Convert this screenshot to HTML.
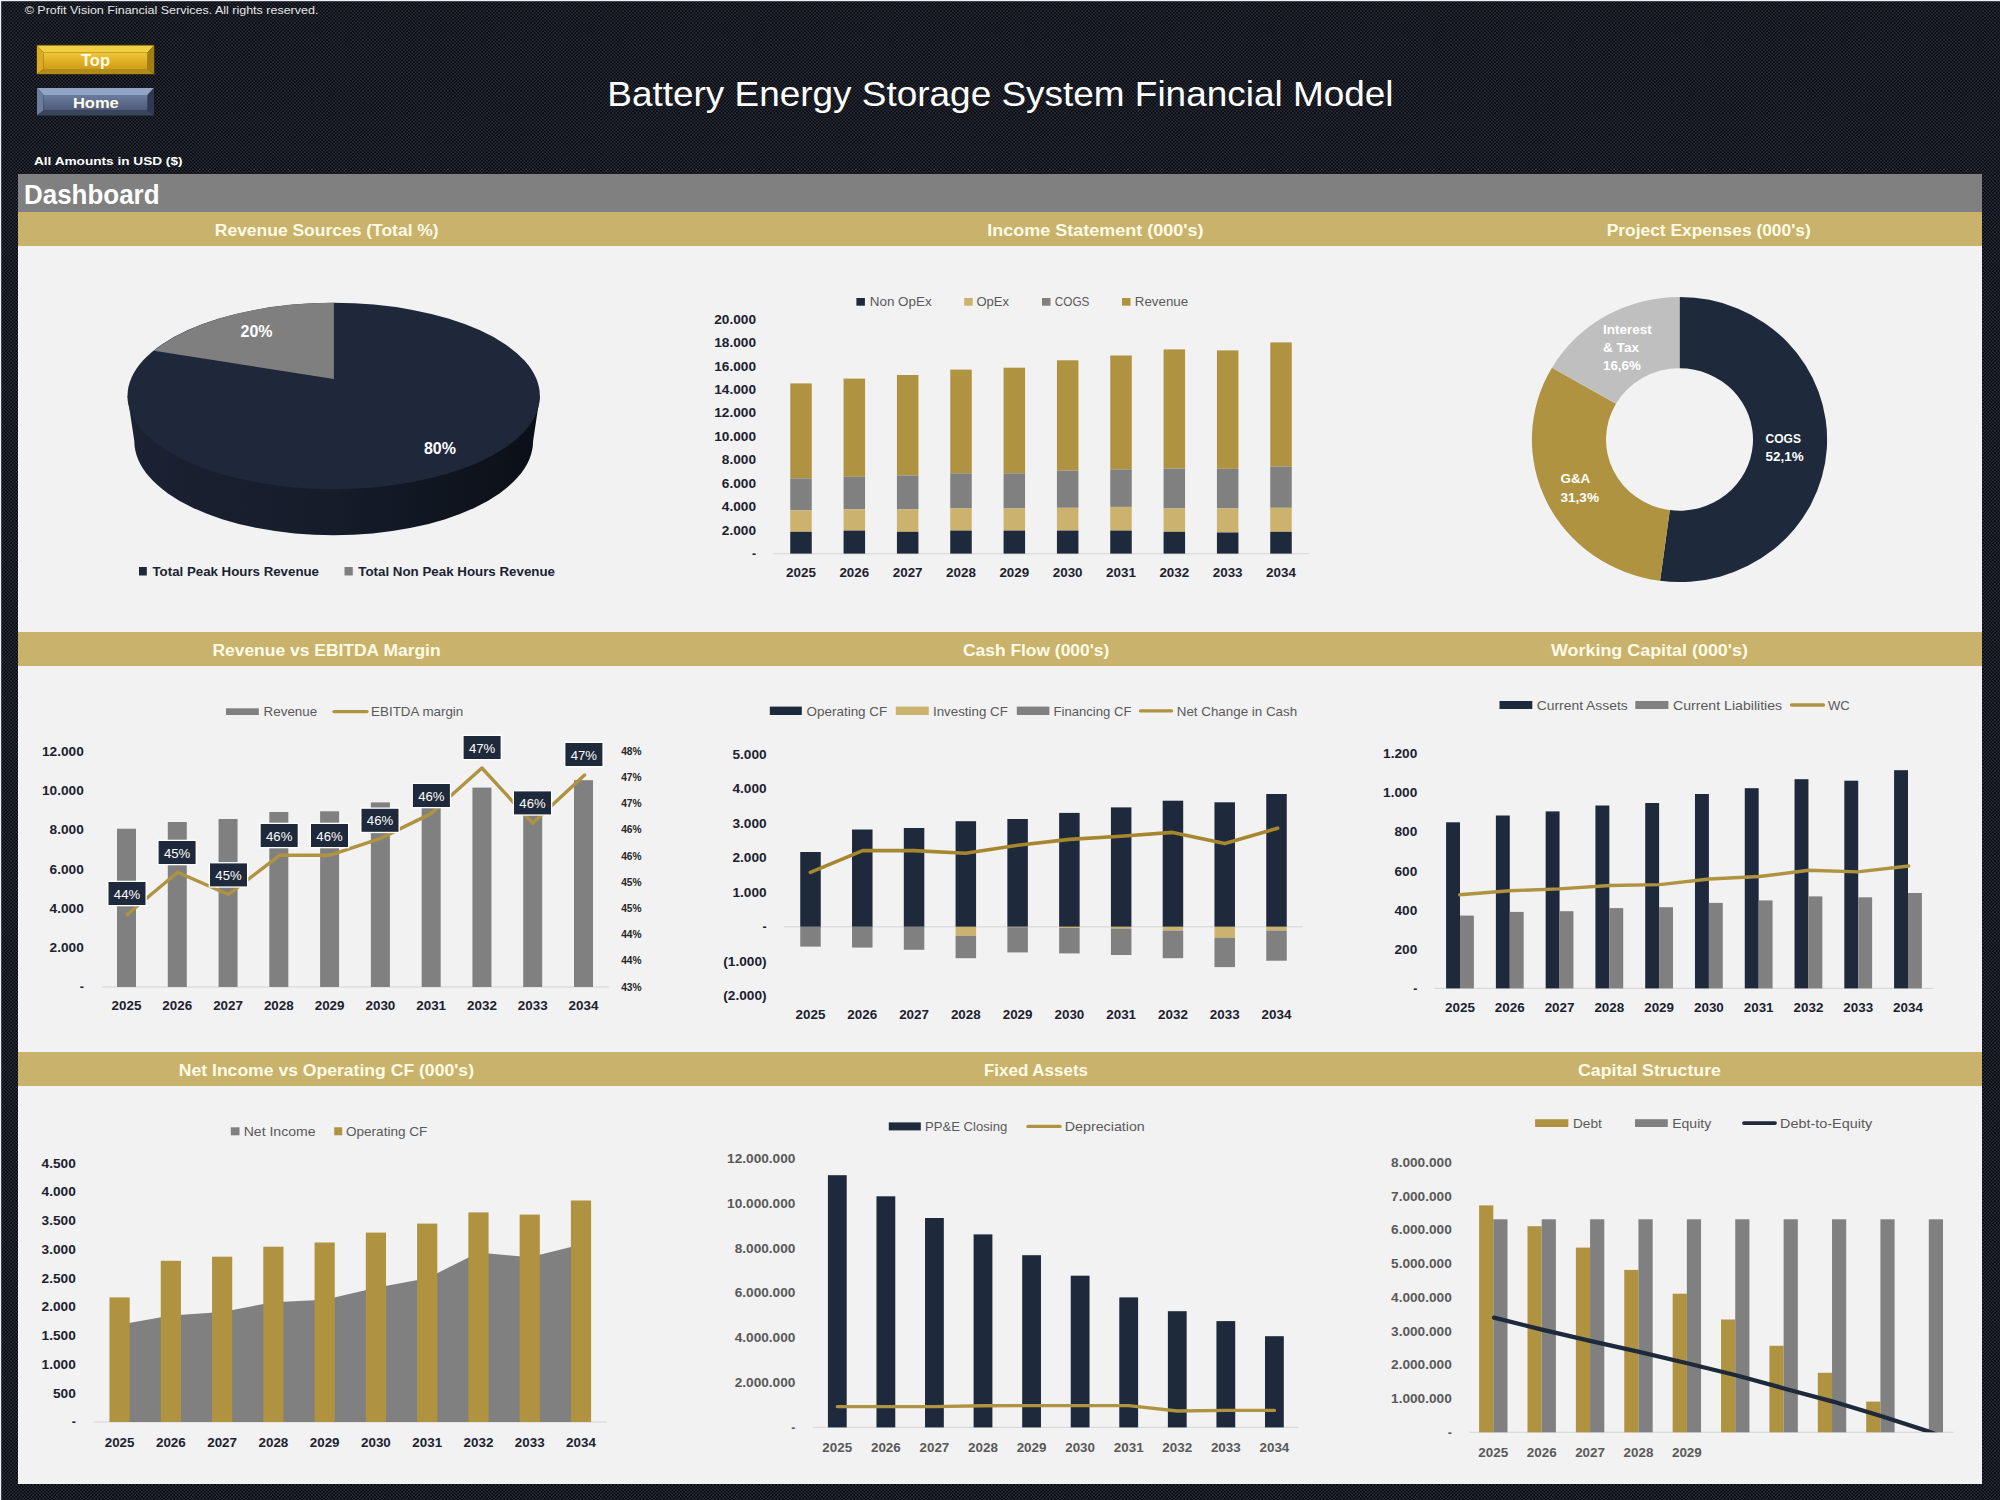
<!DOCTYPE html><html><head><meta charset="utf-8"><title>Battery Energy Storage System Financial Model - Dashboard</title><style>html,body{margin:0;padding:0;background:#11141a;overflow:hidden;width:2000px;height:1500px;}svg{display:block;font-family:"Liberation Sans",sans-serif;}</style></head><body><svg width="2000" height="1500" viewBox="0 0 2000 1500"><defs><pattern id="chk" width="3.4" height="3.4" patternUnits="userSpaceOnUse"><rect width="3.4" height="3.4" fill="#05070d"/><rect x="0" y="0" width="1.7" height="1.7" fill="#2a2e38"/><rect x="1.7" y="1.7" width="1.7" height="1.7" fill="#2a2e38"/></pattern><linearGradient id="pieside" x1="0" x2="1" y1="0" y2="0"><stop offset="0" stop-color="#1a2233"/><stop offset="0.5" stop-color="#151c2a"/><stop offset="1" stop-color="#0b0f17"/></linearGradient><linearGradient id="gface" x1="0" x2="0" y1="0" y2="1"><stop offset="0" stop-color="#f0c83a"/><stop offset="0.5" stop-color="#e2b024"/><stop offset="1" stop-color="#cf9e1a"/></linearGradient><linearGradient id="hface" x1="0" x2="0" y1="0" y2="1"><stop offset="0" stop-color="#6a7c9e"/><stop offset="1" stop-color="#4c5a78"/></linearGradient></defs>
<rect x="0.00" y="0.00" width="2000.00" height="1500.00" fill="url(#chk)" />
<rect x="0.00" y="0.00" width="2000.00" height="1.20" fill="#eef1f5" />
<rect x="0.00" y="0.00" width="1.20" height="1500.00" fill="#eef1f5" />
<text x="24.70" y="14.00" font-size="11.8" font-weight="normal" fill="#e6e6e6" text-anchor="start" textLength="293.70" lengthAdjust="spacingAndGlyphs" >© Profit Vision Financial Services. All rights reserved.</text>
<text x="607.30" y="105.90" font-size="35.9" font-weight="normal" fill="#ffffff" text-anchor="start" textLength="786.20" lengthAdjust="spacingAndGlyphs" >Battery Energy Storage System Financial Model</text>
<rect x="36.00" y="44.50" width="119.00" height="30.50" fill="#3a300c" />
<path d="M37,45.5 L154,45.5 L147.5,52.5 L43.5,52.5 Z" fill="#f1cf45" />
<path d="M37,45.5 L43.5,52.5 L43.5,69.0 L37,74.0 Z" fill="#dcaa20" />
<path d="M154,45.5 L154,74.0 L147.5,69.0 L147.5,52.5 Z" fill="#a27e12" />
<path d="M37,74.0 L43.5,69.0 L147.5,69.0 L154,74.0 Z" fill="#b08a1a" />
<rect x="43.50" y="52.50" width="104.00" height="16.50" fill="url(#gface)" />
<text x="81.00" y="66.00" font-size="15.921787709497208" font-weight="bold" fill="#fffbe8" text-anchor="start" textLength="29.00" lengthAdjust="spacingAndGlyphs" >Top</text>
<rect x="36.00" y="87.00" width="119.00" height="29.50" fill="#141a26" />
<path d="M37,88 L154,88 L147.5,95 L43.5,95 Z" fill="#91a4c4" />
<path d="M37,88 L43.5,95 L43.5,110.5 L37,115.5 Z" fill="#6b7d9c" />
<path d="M154,88 L154,115.5 L147.5,110.5 L147.5,95 Z" fill="#2f3a50" />
<path d="M37,115.5 L43.5,110.5 L147.5,110.5 L154,115.5 Z" fill="#3a455c" />
<rect x="43.50" y="95.00" width="104.00" height="15.50" fill="url(#hface)" />
<text x="72.90" y="108.00" font-size="15.083798882681565" font-weight="bold" fill="#fffbe8" text-anchor="start" textLength="45.90" lengthAdjust="spacingAndGlyphs" >Home</text>
<text x="34.00" y="164.50" font-size="11.8" font-weight="bold" fill="#ffffff" text-anchor="start" textLength="148.50" lengthAdjust="spacingAndGlyphs" >All Amounts in  USD ($)</text>
<rect x="18.00" y="174.00" width="1964.00" height="1310.00" fill="#f2f2f2" />
<rect x="18.00" y="174.00" width="1964.00" height="38.00" fill="#808080" />
<text x="24.00" y="204.00" font-size="27" font-weight="bold" fill="#ffffff" text-anchor="start" textLength="135.50" lengthAdjust="spacingAndGlyphs" >Dashboard</text>
<rect x="18.00" y="212.00" width="1964.00" height="34.00" fill="#c9b26b" />
<rect x="18.00" y="632.00" width="1964.00" height="34.00" fill="#c9b26b" />
<rect x="18.00" y="1052.00" width="1964.00" height="34.00" fill="#c9b26b" />
<text x="214.80" y="236.00" font-size="16.8" font-weight="bold" fill="#fffbe6" text-anchor="start" textLength="223.90" lengthAdjust="spacingAndGlyphs" >Revenue Sources (Total %)</text>
<text x="987.30" y="236.00" font-size="16.8" font-weight="bold" fill="#fffbe6" text-anchor="start" textLength="216.30" lengthAdjust="spacingAndGlyphs" >Income Statement (000's)</text>
<text x="1606.70" y="236.00" font-size="16.8" font-weight="bold" fill="#fffbe6" text-anchor="start" textLength="204.10" lengthAdjust="spacingAndGlyphs" >Project Expenses (000's)</text>
<text x="212.40" y="656.00" font-size="16.8" font-weight="bold" fill="#fffbe6" text-anchor="start" textLength="228.20" lengthAdjust="spacingAndGlyphs" >Revenue vs EBITDA Margin</text>
<text x="963.00" y="656.00" font-size="16.8" font-weight="bold" fill="#fffbe6" text-anchor="start" textLength="146.30" lengthAdjust="spacingAndGlyphs" >Cash Flow (000's)</text>
<text x="1551.00" y="656.00" font-size="16.8" font-weight="bold" fill="#fffbe6" text-anchor="start" textLength="197.00" lengthAdjust="spacingAndGlyphs" >Working Capital (000's)</text>
<text x="178.80" y="1076.00" font-size="16.8" font-weight="bold" fill="#fffbe6" text-anchor="start" textLength="295.20" lengthAdjust="spacingAndGlyphs" >Net Income vs Operating CF (000's)</text>
<text x="984.00" y="1076.00" font-size="16.8" font-weight="bold" fill="#fffbe6" text-anchor="start" textLength="104.00" lengthAdjust="spacingAndGlyphs" >Fixed Assets</text>
<text x="1578.00" y="1076.00" font-size="16.8" font-weight="bold" fill="#fffbe6" text-anchor="start" textLength="143.00" lengthAdjust="spacingAndGlyphs" >Capital Structure</text>
<path d="M127.5,396 L134.3,441 A199.4,94.3 0 0 0 533.1,441 L539.9,396 Z" fill="url(#pieside)" />
<ellipse cx="333.7" cy="396" rx="206.2" ry="93.2" fill="#1e283a"/>
<path d="M333.9,378.9 L333.9,302.80 A206.2,93.2 0 0 0 153.9,350.8 Z" fill="#7f7f7f" />
<text x="240.50" y="336.80" font-size="15.6" font-weight="bold" fill="#ffffff" text-anchor="start" textLength="32.00" lengthAdjust="spacingAndGlyphs" >20%</text>
<text x="423.90" y="454.30" font-size="15.6" font-weight="bold" fill="#ffffff" text-anchor="start" textLength="32.00" lengthAdjust="spacingAndGlyphs" >80%</text>
<rect x="139.00" y="567.00" width="7.80" height="8.50" fill="#1e293b" />
<text x="152.50" y="575.80" font-size="13" font-weight="bold" fill="#1b2231" text-anchor="start" textLength="166.50" lengthAdjust="spacingAndGlyphs" >Total Peak Hours Revenue</text>
<rect x="344.50" y="567.00" width="8.30" height="8.50" fill="#808080" />
<text x="358.30" y="575.80" font-size="13" font-weight="bold" fill="#1b2231" text-anchor="start" textLength="196.70" lengthAdjust="spacingAndGlyphs" >Total Non Peak Hours Revenue</text>
<text x="756.00" y="323.80" font-size="12.3" font-weight="bold" fill="#1c2130" text-anchor="end" textLength="41.76" lengthAdjust="spacingAndGlyphs" >20.000</text>
<text x="756.00" y="347.22" font-size="12.3" font-weight="bold" fill="#1c2130" text-anchor="end" textLength="41.76" lengthAdjust="spacingAndGlyphs" >18.000</text>
<text x="756.00" y="370.64" font-size="12.3" font-weight="bold" fill="#1c2130" text-anchor="end" textLength="41.76" lengthAdjust="spacingAndGlyphs" >16.000</text>
<text x="756.00" y="394.06" font-size="12.3" font-weight="bold" fill="#1c2130" text-anchor="end" textLength="41.76" lengthAdjust="spacingAndGlyphs" >14.000</text>
<text x="756.00" y="417.48" font-size="12.3" font-weight="bold" fill="#1c2130" text-anchor="end" textLength="41.76" lengthAdjust="spacingAndGlyphs" >12.000</text>
<text x="756.00" y="440.90" font-size="12.3" font-weight="bold" fill="#1c2130" text-anchor="end" textLength="41.76" lengthAdjust="spacingAndGlyphs" >10.000</text>
<text x="756.00" y="464.32" font-size="12.3" font-weight="bold" fill="#1c2130" text-anchor="end" textLength="34.17" lengthAdjust="spacingAndGlyphs" >8.000</text>
<text x="756.00" y="487.74" font-size="12.3" font-weight="bold" fill="#1c2130" text-anchor="end" textLength="34.17" lengthAdjust="spacingAndGlyphs" >6.000</text>
<text x="756.00" y="511.16" font-size="12.3" font-weight="bold" fill="#1c2130" text-anchor="end" textLength="34.17" lengthAdjust="spacingAndGlyphs" >4.000</text>
<text x="756.00" y="534.58" font-size="12.3" font-weight="bold" fill="#1c2130" text-anchor="end" textLength="34.17" lengthAdjust="spacingAndGlyphs" >2.000</text>
<text x="756.00" y="558.00" font-size="12.3" font-weight="bold" fill="#1c2130" text-anchor="end" >-</text>
<rect x="773.00" y="553.10" width="536.00" height="1.20" fill="#d9d9d9" />
<rect x="790.25" y="383.40" width="21.50" height="95.00" fill="#b09340" />
<rect x="790.25" y="478.40" width="21.50" height="32.00" fill="#808080" />
<rect x="790.25" y="510.40" width="21.50" height="21.40" fill="#cbb36e" />
<rect x="790.25" y="531.80" width="21.50" height="21.80" fill="#1e293b" />
<rect x="843.58" y="378.60" width="21.50" height="98.20" fill="#b09340" />
<rect x="843.58" y="476.80" width="21.50" height="32.60" fill="#808080" />
<rect x="843.58" y="509.40" width="21.50" height="21.20" fill="#cbb36e" />
<rect x="843.58" y="530.60" width="21.50" height="23.00" fill="#1e293b" />
<rect x="896.92" y="375.00" width="21.50" height="100.50" fill="#b09340" />
<rect x="896.92" y="475.50" width="21.50" height="33.90" fill="#808080" />
<rect x="896.92" y="509.40" width="21.50" height="22.40" fill="#cbb36e" />
<rect x="896.92" y="531.80" width="21.50" height="21.80" fill="#1e293b" />
<rect x="950.25" y="369.60" width="21.50" height="103.70" fill="#b09340" />
<rect x="950.25" y="473.30" width="21.50" height="35.20" fill="#808080" />
<rect x="950.25" y="508.50" width="21.50" height="22.10" fill="#cbb36e" />
<rect x="950.25" y="530.60" width="21.50" height="23.00" fill="#1e293b" />
<rect x="1003.58" y="367.70" width="21.50" height="105.60" fill="#b09340" />
<rect x="1003.58" y="473.30" width="21.50" height="35.20" fill="#808080" />
<rect x="1003.58" y="508.50" width="21.50" height="22.10" fill="#cbb36e" />
<rect x="1003.58" y="530.60" width="21.50" height="23.00" fill="#1e293b" />
<rect x="1056.92" y="360.30" width="21.50" height="110.40" fill="#b09340" />
<rect x="1056.92" y="470.70" width="21.50" height="37.10" fill="#808080" />
<rect x="1056.92" y="507.80" width="21.50" height="22.80" fill="#cbb36e" />
<rect x="1056.92" y="530.60" width="21.50" height="23.00" fill="#1e293b" />
<rect x="1110.25" y="355.50" width="21.50" height="113.90" fill="#b09340" />
<rect x="1110.25" y="469.40" width="21.50" height="37.50" fill="#808080" />
<rect x="1110.25" y="506.90" width="21.50" height="23.70" fill="#cbb36e" />
<rect x="1110.25" y="530.60" width="21.50" height="23.00" fill="#1e293b" />
<rect x="1163.58" y="349.40" width="21.50" height="119.10" fill="#b09340" />
<rect x="1163.58" y="468.50" width="21.50" height="40.00" fill="#808080" />
<rect x="1163.58" y="508.50" width="21.50" height="23.30" fill="#cbb36e" />
<rect x="1163.58" y="531.80" width="21.50" height="21.80" fill="#1e293b" />
<rect x="1216.92" y="350.40" width="21.50" height="118.40" fill="#b09340" />
<rect x="1216.92" y="468.80" width="21.50" height="39.70" fill="#808080" />
<rect x="1216.92" y="508.50" width="21.50" height="24.00" fill="#cbb36e" />
<rect x="1216.92" y="532.50" width="21.50" height="21.10" fill="#1e293b" />
<rect x="1270.25" y="342.40" width="21.50" height="124.20" fill="#b09340" />
<rect x="1270.25" y="466.60" width="21.50" height="41.20" fill="#808080" />
<rect x="1270.25" y="507.80" width="21.50" height="24.00" fill="#cbb36e" />
<rect x="1270.25" y="531.80" width="21.50" height="21.80" fill="#1e293b" />
<text x="801.00" y="577.20" font-size="12.3" font-weight="bold" fill="#1c2130" text-anchor="middle" textLength="29.83" lengthAdjust="spacingAndGlyphs" >2025</text>
<text x="854.33" y="577.20" font-size="12.3" font-weight="bold" fill="#1c2130" text-anchor="middle" textLength="29.83" lengthAdjust="spacingAndGlyphs" >2026</text>
<text x="907.67" y="577.20" font-size="12.3" font-weight="bold" fill="#1c2130" text-anchor="middle" textLength="29.83" lengthAdjust="spacingAndGlyphs" >2027</text>
<text x="961.00" y="577.20" font-size="12.3" font-weight="bold" fill="#1c2130" text-anchor="middle" textLength="29.83" lengthAdjust="spacingAndGlyphs" >2028</text>
<text x="1014.33" y="577.20" font-size="12.3" font-weight="bold" fill="#1c2130" text-anchor="middle" textLength="29.83" lengthAdjust="spacingAndGlyphs" >2029</text>
<text x="1067.67" y="577.20" font-size="12.3" font-weight="bold" fill="#1c2130" text-anchor="middle" textLength="29.83" lengthAdjust="spacingAndGlyphs" >2030</text>
<text x="1121.00" y="577.20" font-size="12.3" font-weight="bold" fill="#1c2130" text-anchor="middle" textLength="29.83" lengthAdjust="spacingAndGlyphs" >2031</text>
<text x="1174.33" y="577.20" font-size="12.3" font-weight="bold" fill="#1c2130" text-anchor="middle" textLength="29.83" lengthAdjust="spacingAndGlyphs" >2032</text>
<text x="1227.67" y="577.20" font-size="12.3" font-weight="bold" fill="#1c2130" text-anchor="middle" textLength="29.83" lengthAdjust="spacingAndGlyphs" >2033</text>
<text x="1281.00" y="577.20" font-size="12.3" font-weight="bold" fill="#1c2130" text-anchor="middle" textLength="29.83" lengthAdjust="spacingAndGlyphs" >2034</text>
<rect x="856.40" y="298.00" width="8.50" height="7.70" fill="#1e293b" />
<text x="869.80" y="306.00" font-size="11.9" font-weight="normal" fill="#595959" text-anchor="start" textLength="61.80" lengthAdjust="spacingAndGlyphs" >Non OpEx</text>
<rect x="964.20" y="298.00" width="8.50" height="7.70" fill="#cbb36e" />
<text x="976.40" y="306.00" font-size="11.9" font-weight="normal" fill="#595959" text-anchor="start" textLength="32.60" lengthAdjust="spacingAndGlyphs" >OpEx</text>
<rect x="1042.00" y="298.00" width="8.50" height="7.70" fill="#808080" />
<text x="1054.80" y="306.00" font-size="11.9" font-weight="normal" fill="#595959" text-anchor="start" textLength="34.60" lengthAdjust="spacingAndGlyphs" >COGS</text>
<rect x="1122.00" y="298.00" width="8.50" height="7.70" fill="#b09340" />
<text x="1134.80" y="306.00" font-size="11.9" font-weight="normal" fill="#595959" text-anchor="start" textLength="53.40" lengthAdjust="spacingAndGlyphs" >Revenue</text>
<path d="M1679.50,296.90 A147.6,142.6 0 1 1 1660.08,580.86 L1669.83,510.08 A73.5,71.2 0 1 0 1679.50,368.30 Z" fill="#1e293b" />
<path d="M1660.08,580.86 A147.6,142.6 0 0 1 1551.98,367.68 L1616.00,403.64 A73.5,71.2 0 0 0 1669.83,510.08 Z" fill="#b09340" />
<path d="M1551.98,367.68 A147.6,142.6 0 0 1 1679.50,296.90 L1679.50,368.30 A73.5,71.2 0 0 0 1616.00,403.64 Z" fill="#bfbfbf" />
<text x="1603.00" y="334.20" font-size="13.5" font-weight="bold" fill="#ffffff" text-anchor="start" textLength="48.80" lengthAdjust="spacingAndGlyphs" >Interest</text>
<text x="1603.00" y="352.20" font-size="13.5" font-weight="bold" fill="#ffffff" text-anchor="start" textLength="36.00" lengthAdjust="spacingAndGlyphs" >&amp; Tax</text>
<text x="1603.00" y="370.10" font-size="13.5" font-weight="bold" fill="#ffffff" text-anchor="start" textLength="37.80" lengthAdjust="spacingAndGlyphs" >16,6%</text>
<text x="1765.60" y="443.20" font-size="13.5" font-weight="bold" fill="#ffffff" text-anchor="start" textLength="35.40" lengthAdjust="spacingAndGlyphs" >COGS</text>
<text x="1765.60" y="461.00" font-size="13.5" font-weight="bold" fill="#ffffff" text-anchor="start" textLength="38.00" lengthAdjust="spacingAndGlyphs" >52,1%</text>
<text x="1560.50" y="483.40" font-size="13.5" font-weight="bold" fill="#ffffff" text-anchor="start" textLength="29.70" lengthAdjust="spacingAndGlyphs" >G&amp;A</text>
<text x="1560.50" y="501.50" font-size="13.5" font-weight="bold" fill="#ffffff" text-anchor="start" textLength="38.50" lengthAdjust="spacingAndGlyphs" >31,3%</text>
<text x="83.80" y="756.00" font-size="12.3" font-weight="bold" fill="#1c2130" text-anchor="end" textLength="41.76" lengthAdjust="spacingAndGlyphs" >12.000</text>
<text x="83.80" y="795.24" font-size="12.3" font-weight="bold" fill="#1c2130" text-anchor="end" textLength="41.76" lengthAdjust="spacingAndGlyphs" >10.000</text>
<text x="83.80" y="834.47" font-size="12.3" font-weight="bold" fill="#1c2130" text-anchor="end" textLength="34.17" lengthAdjust="spacingAndGlyphs" >8.000</text>
<text x="83.80" y="873.70" font-size="12.3" font-weight="bold" fill="#1c2130" text-anchor="end" textLength="34.17" lengthAdjust="spacingAndGlyphs" >6.000</text>
<text x="83.80" y="912.94" font-size="12.3" font-weight="bold" fill="#1c2130" text-anchor="end" textLength="34.17" lengthAdjust="spacingAndGlyphs" >4.000</text>
<text x="83.80" y="952.17" font-size="12.3" font-weight="bold" fill="#1c2130" text-anchor="end" textLength="34.17" lengthAdjust="spacingAndGlyphs" >2.000</text>
<text x="83.80" y="991.40" font-size="12.3" font-weight="bold" fill="#1c2130" text-anchor="end" >-</text>
<text x="641.60" y="754.65" font-size="10.2" font-weight="bold" fill="#262626" text-anchor="end" textLength="20.42" lengthAdjust="spacingAndGlyphs" >48%</text>
<text x="641.60" y="780.87" font-size="10.2" font-weight="bold" fill="#262626" text-anchor="end" textLength="20.42" lengthAdjust="spacingAndGlyphs" >47%</text>
<text x="641.60" y="807.09" font-size="10.2" font-weight="bold" fill="#262626" text-anchor="end" textLength="20.42" lengthAdjust="spacingAndGlyphs" >47%</text>
<text x="641.60" y="833.32" font-size="10.2" font-weight="bold" fill="#262626" text-anchor="end" textLength="20.42" lengthAdjust="spacingAndGlyphs" >46%</text>
<text x="641.60" y="859.54" font-size="10.2" font-weight="bold" fill="#262626" text-anchor="end" textLength="20.42" lengthAdjust="spacingAndGlyphs" >46%</text>
<text x="641.60" y="885.76" font-size="10.2" font-weight="bold" fill="#262626" text-anchor="end" textLength="20.42" lengthAdjust="spacingAndGlyphs" >45%</text>
<text x="641.60" y="911.98" font-size="10.2" font-weight="bold" fill="#262626" text-anchor="end" textLength="20.42" lengthAdjust="spacingAndGlyphs" >45%</text>
<text x="641.60" y="938.21" font-size="10.2" font-weight="bold" fill="#262626" text-anchor="end" textLength="20.42" lengthAdjust="spacingAndGlyphs" >44%</text>
<text x="641.60" y="964.43" font-size="10.2" font-weight="bold" fill="#262626" text-anchor="end" textLength="20.42" lengthAdjust="spacingAndGlyphs" >44%</text>
<text x="641.60" y="990.65" font-size="10.2" font-weight="bold" fill="#262626" text-anchor="end" textLength="20.42" lengthAdjust="spacingAndGlyphs" >43%</text>
<rect x="101.50" y="986.40" width="507.20" height="1.20" fill="#d9d9d9" />
<rect x="117.00" y="828.70" width="19.00" height="158.30" fill="#808080" />
<rect x="167.78" y="822.00" width="19.00" height="165.00" fill="#808080" />
<rect x="218.56" y="819.00" width="19.00" height="168.00" fill="#808080" />
<rect x="269.33" y="812.00" width="19.00" height="175.00" fill="#808080" />
<rect x="320.11" y="811.30" width="19.00" height="175.70" fill="#808080" />
<rect x="370.89" y="802.40" width="19.00" height="184.60" fill="#808080" />
<rect x="421.67" y="799.50" width="19.00" height="187.50" fill="#808080" />
<rect x="472.44" y="787.60" width="19.00" height="199.40" fill="#808080" />
<rect x="523.22" y="790.50" width="19.00" height="196.50" fill="#808080" />
<rect x="574.00" y="780.20" width="19.00" height="206.80" fill="#808080" />
<polyline points="127.00,914.70 177.60,872.30 228.30,894.50 279.60,855.30 329.40,855.30 380.00,838.60 431.00,813.60 481.90,768.00 532.60,823.20 584.60,775.00" fill="none" stroke="#b09340" stroke-width="3.4" stroke-linejoin="round" stroke-linecap="round" />
<rect x="107.20" y="880.70" width="39.60" height="25.60" fill="#ffffff" />
<rect x="108.50" y="882.00" width="37.00" height="23.00" fill="#1e293b" />
<text x="127.00" y="898.50" font-size="13.3" font-weight="normal" fill="#ffffff" text-anchor="middle" textLength="26.30" lengthAdjust="spacingAndGlyphs" >44%</text>
<rect x="157.30" y="839.70" width="39.60" height="25.60" fill="#ffffff" />
<rect x="158.60" y="841.00" width="37.00" height="23.00" fill="#1e293b" />
<text x="177.10" y="857.50" font-size="13.3" font-weight="normal" fill="#ffffff" text-anchor="middle" textLength="26.30" lengthAdjust="spacingAndGlyphs" >45%</text>
<rect x="208.70" y="862.10" width="39.60" height="25.60" fill="#ffffff" />
<rect x="210.00" y="863.40" width="37.00" height="23.00" fill="#1e293b" />
<text x="228.50" y="879.90" font-size="13.3" font-weight="normal" fill="#ffffff" text-anchor="middle" textLength="26.30" lengthAdjust="spacingAndGlyphs" >45%</text>
<rect x="259.40" y="822.70" width="39.60" height="25.60" fill="#ffffff" />
<rect x="260.70" y="824.00" width="37.00" height="23.00" fill="#1e293b" />
<text x="279.20" y="840.50" font-size="13.3" font-weight="normal" fill="#ffffff" text-anchor="middle" textLength="26.30" lengthAdjust="spacingAndGlyphs" >46%</text>
<rect x="309.70" y="822.70" width="39.60" height="25.60" fill="#ffffff" />
<rect x="311.00" y="824.00" width="37.00" height="23.00" fill="#1e293b" />
<text x="329.50" y="840.50" font-size="13.3" font-weight="normal" fill="#ffffff" text-anchor="middle" textLength="26.30" lengthAdjust="spacingAndGlyphs" >46%</text>
<rect x="360.20" y="807.50" width="39.60" height="25.60" fill="#ffffff" />
<rect x="361.50" y="808.80" width="37.00" height="23.00" fill="#1e293b" />
<text x="380.00" y="825.30" font-size="13.3" font-weight="normal" fill="#ffffff" text-anchor="middle" textLength="26.30" lengthAdjust="spacingAndGlyphs" >46%</text>
<rect x="411.60" y="782.70" width="39.60" height="25.60" fill="#ffffff" />
<rect x="412.90" y="784.00" width="37.00" height="23.00" fill="#1e293b" />
<text x="431.40" y="800.50" font-size="13.3" font-weight="normal" fill="#ffffff" text-anchor="middle" textLength="26.30" lengthAdjust="spacingAndGlyphs" >46%</text>
<rect x="462.30" y="734.70" width="39.60" height="25.60" fill="#ffffff" />
<rect x="463.60" y="736.00" width="37.00" height="23.00" fill="#1e293b" />
<text x="482.10" y="752.50" font-size="13.3" font-weight="normal" fill="#ffffff" text-anchor="middle" textLength="26.30" lengthAdjust="spacingAndGlyphs" >47%</text>
<rect x="512.70" y="790.10" width="39.60" height="25.60" fill="#ffffff" />
<rect x="514.00" y="791.40" width="37.00" height="23.00" fill="#1e293b" />
<text x="532.50" y="807.90" font-size="13.3" font-weight="normal" fill="#ffffff" text-anchor="middle" textLength="26.30" lengthAdjust="spacingAndGlyphs" >46%</text>
<rect x="564.10" y="741.70" width="39.60" height="25.60" fill="#ffffff" />
<rect x="565.40" y="743.00" width="37.00" height="23.00" fill="#1e293b" />
<text x="583.90" y="759.50" font-size="13.3" font-weight="normal" fill="#ffffff" text-anchor="middle" textLength="26.30" lengthAdjust="spacingAndGlyphs" >47%</text>
<text x="126.50" y="1010.40" font-size="12.3" font-weight="bold" fill="#1c2130" text-anchor="middle" textLength="29.83" lengthAdjust="spacingAndGlyphs" >2025</text>
<text x="177.28" y="1010.40" font-size="12.3" font-weight="bold" fill="#1c2130" text-anchor="middle" textLength="29.83" lengthAdjust="spacingAndGlyphs" >2026</text>
<text x="228.06" y="1010.40" font-size="12.3" font-weight="bold" fill="#1c2130" text-anchor="middle" textLength="29.83" lengthAdjust="spacingAndGlyphs" >2027</text>
<text x="278.83" y="1010.40" font-size="12.3" font-weight="bold" fill="#1c2130" text-anchor="middle" textLength="29.83" lengthAdjust="spacingAndGlyphs" >2028</text>
<text x="329.61" y="1010.40" font-size="12.3" font-weight="bold" fill="#1c2130" text-anchor="middle" textLength="29.83" lengthAdjust="spacingAndGlyphs" >2029</text>
<text x="380.39" y="1010.40" font-size="12.3" font-weight="bold" fill="#1c2130" text-anchor="middle" textLength="29.83" lengthAdjust="spacingAndGlyphs" >2030</text>
<text x="431.17" y="1010.40" font-size="12.3" font-weight="bold" fill="#1c2130" text-anchor="middle" textLength="29.83" lengthAdjust="spacingAndGlyphs" >2031</text>
<text x="481.94" y="1010.40" font-size="12.3" font-weight="bold" fill="#1c2130" text-anchor="middle" textLength="29.83" lengthAdjust="spacingAndGlyphs" >2032</text>
<text x="532.72" y="1010.40" font-size="12.3" font-weight="bold" fill="#1c2130" text-anchor="middle" textLength="29.83" lengthAdjust="spacingAndGlyphs" >2033</text>
<text x="583.50" y="1010.40" font-size="12.3" font-weight="bold" fill="#1c2130" text-anchor="middle" textLength="29.83" lengthAdjust="spacingAndGlyphs" >2034</text>
<rect x="226.00" y="708.30" width="32.80" height="6.70" fill="#808080" />
<text x="263.60" y="716.30" font-size="11.9" font-weight="normal" fill="#595959" text-anchor="start" textLength="53.60" lengthAdjust="spacingAndGlyphs" >Revenue</text>
<polyline points="334.00,711.60 367.00,711.60" fill="none" stroke="#b09340" stroke-width="3.4" stroke-linejoin="round" stroke-linecap="round" />
<text x="371.10" y="716.30" font-size="11.9" font-weight="normal" fill="#595959" text-anchor="start" textLength="92.20" lengthAdjust="spacingAndGlyphs" >EBITDA margin</text>
<text x="766.60" y="759.00" font-size="12.3" font-weight="bold" fill="#1c2130" text-anchor="end" textLength="34.17" lengthAdjust="spacingAndGlyphs" >5.000</text>
<text x="766.60" y="793.43" font-size="12.3" font-weight="bold" fill="#1c2130" text-anchor="end" textLength="34.17" lengthAdjust="spacingAndGlyphs" >4.000</text>
<text x="766.60" y="827.86" font-size="12.3" font-weight="bold" fill="#1c2130" text-anchor="end" textLength="34.17" lengthAdjust="spacingAndGlyphs" >3.000</text>
<text x="766.60" y="862.29" font-size="12.3" font-weight="bold" fill="#1c2130" text-anchor="end" textLength="34.17" lengthAdjust="spacingAndGlyphs" >2.000</text>
<text x="766.60" y="896.72" font-size="12.3" font-weight="bold" fill="#1c2130" text-anchor="end" textLength="34.17" lengthAdjust="spacingAndGlyphs" >1.000</text>
<text x="766.60" y="931.15" font-size="12.3" font-weight="bold" fill="#1c2130" text-anchor="end" >-</text>
<text x="766.60" y="965.57" font-size="12.3" font-weight="bold" fill="#1c2130" text-anchor="end" textLength="43.26" lengthAdjust="spacingAndGlyphs" >(1.000)</text>
<text x="766.60" y="1000.00" font-size="12.3" font-weight="bold" fill="#1c2130" text-anchor="end" textLength="43.26" lengthAdjust="spacingAndGlyphs" >(2.000)</text>
<rect x="783.80" y="926.20" width="518.80" height="1.20" fill="#d9d9d9" />
<rect x="800.25" y="852.00" width="20.50" height="74.80" fill="#1e293b" />
<rect x="800.25" y="926.80" width="20.50" height="19.80" fill="#808080" />
<rect x="852.03" y="829.50" width="20.50" height="97.30" fill="#1e293b" />
<rect x="852.03" y="926.80" width="20.50" height="20.80" fill="#808080" />
<rect x="903.81" y="828.00" width="20.50" height="98.80" fill="#1e293b" />
<rect x="903.81" y="926.80" width="20.50" height="23.00" fill="#808080" />
<rect x="955.58" y="821.20" width="20.50" height="105.60" fill="#1e293b" />
<rect x="955.58" y="926.80" width="20.50" height="9.00" fill="#cbb36e" />
<rect x="955.58" y="935.80" width="20.50" height="22.40" fill="#808080" />
<rect x="1007.36" y="819.00" width="20.50" height="107.80" fill="#1e293b" />
<rect x="1007.36" y="926.80" width="20.50" height="0.40" fill="#cbb36e" />
<rect x="1007.36" y="927.20" width="20.50" height="25.20" fill="#808080" />
<rect x="1059.14" y="812.90" width="20.50" height="113.90" fill="#1e293b" />
<rect x="1059.14" y="926.80" width="20.50" height="1.20" fill="#cbb36e" />
<rect x="1059.14" y="928.00" width="20.50" height="25.40" fill="#808080" />
<rect x="1110.92" y="807.40" width="20.50" height="119.40" fill="#1e293b" />
<rect x="1110.92" y="926.80" width="20.50" height="1.70" fill="#cbb36e" />
<rect x="1110.92" y="928.50" width="20.50" height="26.50" fill="#808080" />
<rect x="1162.69" y="800.70" width="20.50" height="126.10" fill="#1e293b" />
<rect x="1162.69" y="926.80" width="20.50" height="3.80" fill="#cbb36e" />
<rect x="1162.69" y="930.60" width="20.50" height="27.60" fill="#808080" />
<rect x="1214.47" y="802.30" width="20.50" height="124.50" fill="#1e293b" />
<rect x="1214.47" y="926.80" width="20.50" height="10.90" fill="#cbb36e" />
<rect x="1214.47" y="937.70" width="20.50" height="29.40" fill="#808080" />
<rect x="1266.25" y="794.00" width="20.50" height="132.80" fill="#1e293b" />
<rect x="1266.25" y="926.80" width="20.50" height="3.80" fill="#cbb36e" />
<rect x="1266.25" y="930.60" width="20.50" height="30.10" fill="#808080" />
<polyline points="810.40,872.40 862.60,850.60 913.80,850.60 965.60,853.20 1017.80,845.20 1069.60,839.40 1120.80,836.20 1172.60,832.40 1224.80,843.60 1277.60,828.20" fill="none" stroke="#a6872f" stroke-width="3.6" stroke-linejoin="round" stroke-linecap="round" />
<text x="810.50" y="1019.20" font-size="12.3" font-weight="bold" fill="#1c2130" text-anchor="middle" textLength="29.83" lengthAdjust="spacingAndGlyphs" >2025</text>
<text x="862.28" y="1019.20" font-size="12.3" font-weight="bold" fill="#1c2130" text-anchor="middle" textLength="29.83" lengthAdjust="spacingAndGlyphs" >2026</text>
<text x="914.06" y="1019.20" font-size="12.3" font-weight="bold" fill="#1c2130" text-anchor="middle" textLength="29.83" lengthAdjust="spacingAndGlyphs" >2027</text>
<text x="965.83" y="1019.20" font-size="12.3" font-weight="bold" fill="#1c2130" text-anchor="middle" textLength="29.83" lengthAdjust="spacingAndGlyphs" >2028</text>
<text x="1017.61" y="1019.20" font-size="12.3" font-weight="bold" fill="#1c2130" text-anchor="middle" textLength="29.83" lengthAdjust="spacingAndGlyphs" >2029</text>
<text x="1069.39" y="1019.20" font-size="12.3" font-weight="bold" fill="#1c2130" text-anchor="middle" textLength="29.83" lengthAdjust="spacingAndGlyphs" >2030</text>
<text x="1121.17" y="1019.20" font-size="12.3" font-weight="bold" fill="#1c2130" text-anchor="middle" textLength="29.83" lengthAdjust="spacingAndGlyphs" >2031</text>
<text x="1172.94" y="1019.20" font-size="12.3" font-weight="bold" fill="#1c2130" text-anchor="middle" textLength="29.83" lengthAdjust="spacingAndGlyphs" >2032</text>
<text x="1224.72" y="1019.20" font-size="12.3" font-weight="bold" fill="#1c2130" text-anchor="middle" textLength="29.83" lengthAdjust="spacingAndGlyphs" >2033</text>
<text x="1276.50" y="1019.20" font-size="12.3" font-weight="bold" fill="#1c2130" text-anchor="middle" textLength="29.83" lengthAdjust="spacingAndGlyphs" >2034</text>
<rect x="769.80" y="706.60" width="32.00" height="8.40" fill="#1e293b" />
<text x="806.60" y="716.20" font-size="11.9" font-weight="normal" fill="#595959" text-anchor="start" textLength="80.60" lengthAdjust="spacingAndGlyphs" >Operating CF</text>
<rect x="895.80" y="706.60" width="33.00" height="8.40" fill="#cbb36e" />
<text x="933.00" y="716.20" font-size="11.9" font-weight="normal" fill="#595959" text-anchor="start" textLength="74.80" lengthAdjust="spacingAndGlyphs" >Investing CF</text>
<rect x="1016.80" y="706.60" width="32.60" height="8.40" fill="#808080" />
<text x="1053.60" y="716.20" font-size="11.9" font-weight="normal" fill="#595959" text-anchor="start" textLength="77.80" lengthAdjust="spacingAndGlyphs" >Financing CF</text>
<polyline points="1140.50,710.90 1171.50,710.90" fill="none" stroke="#b09340" stroke-width="3.4" stroke-linejoin="round" stroke-linecap="round" />
<text x="1176.80" y="716.20" font-size="11.9" font-weight="normal" fill="#595959" text-anchor="start" textLength="120.30" lengthAdjust="spacingAndGlyphs" >Net Change in Cash</text>
<text x="1417.30" y="758.20" font-size="12.3" font-weight="bold" fill="#1c2130" text-anchor="end" textLength="34.17" lengthAdjust="spacingAndGlyphs" >1.200</text>
<text x="1417.30" y="797.30" font-size="12.3" font-weight="bold" fill="#1c2130" text-anchor="end" textLength="34.17" lengthAdjust="spacingAndGlyphs" >1.000</text>
<text x="1417.30" y="836.40" font-size="12.3" font-weight="bold" fill="#1c2130" text-anchor="end" textLength="22.78" lengthAdjust="spacingAndGlyphs" >800</text>
<text x="1417.30" y="875.50" font-size="12.3" font-weight="bold" fill="#1c2130" text-anchor="end" textLength="22.78" lengthAdjust="spacingAndGlyphs" >600</text>
<text x="1417.30" y="914.60" font-size="12.3" font-weight="bold" fill="#1c2130" text-anchor="end" textLength="22.78" lengthAdjust="spacingAndGlyphs" >400</text>
<text x="1417.30" y="953.70" font-size="12.3" font-weight="bold" fill="#1c2130" text-anchor="end" textLength="22.78" lengthAdjust="spacingAndGlyphs" >200</text>
<text x="1417.30" y="992.80" font-size="12.3" font-weight="bold" fill="#1c2130" text-anchor="end" >-</text>
<rect x="1434.40" y="987.80" width="499.10" height="1.20" fill="#d9d9d9" />
<rect x="1446.10" y="822.30" width="13.90" height="166.10" fill="#1e293b" />
<rect x="1460.00" y="915.60" width="13.90" height="72.80" fill="#808080" />
<rect x="1495.88" y="815.50" width="13.90" height="172.90" fill="#1e293b" />
<rect x="1509.78" y="911.90" width="13.90" height="76.50" fill="#808080" />
<rect x="1545.66" y="811.40" width="13.90" height="177.00" fill="#1e293b" />
<rect x="1559.56" y="911.20" width="13.90" height="77.20" fill="#808080" />
<rect x="1595.43" y="805.50" width="13.90" height="182.90" fill="#1e293b" />
<rect x="1609.33" y="908.10" width="13.90" height="80.30" fill="#808080" />
<rect x="1645.21" y="803.00" width="13.90" height="185.40" fill="#1e293b" />
<rect x="1659.11" y="907.20" width="13.90" height="81.20" fill="#808080" />
<rect x="1694.99" y="794.00" width="13.90" height="194.40" fill="#1e293b" />
<rect x="1708.89" y="902.90" width="13.90" height="85.50" fill="#808080" />
<rect x="1744.77" y="788.20" width="13.90" height="200.20" fill="#1e293b" />
<rect x="1758.67" y="900.40" width="13.90" height="88.00" fill="#808080" />
<rect x="1794.54" y="779.20" width="13.90" height="209.20" fill="#1e293b" />
<rect x="1808.44" y="896.40" width="13.90" height="92.00" fill="#808080" />
<rect x="1844.32" y="780.70" width="13.90" height="207.70" fill="#1e293b" />
<rect x="1858.22" y="897.30" width="13.90" height="91.10" fill="#808080" />
<rect x="1894.10" y="770.20" width="13.90" height="218.20" fill="#1e293b" />
<rect x="1908.00" y="893.00" width="13.90" height="95.40" fill="#808080" />
<polyline points="1459.80,894.80 1509.40,890.80 1559.30,888.90 1609.50,885.50 1659.80,884.60 1709.30,879.00 1759.30,876.50 1808.90,870.30 1857.50,871.90 1908.70,866.00" fill="none" stroke="#b09340" stroke-width="3.4" stroke-linejoin="round" stroke-linecap="round" />
<text x="1460.00" y="1012.40" font-size="12.3" font-weight="bold" fill="#1c2130" text-anchor="middle" textLength="29.83" lengthAdjust="spacingAndGlyphs" >2025</text>
<text x="1509.78" y="1012.40" font-size="12.3" font-weight="bold" fill="#1c2130" text-anchor="middle" textLength="29.83" lengthAdjust="spacingAndGlyphs" >2026</text>
<text x="1559.56" y="1012.40" font-size="12.3" font-weight="bold" fill="#1c2130" text-anchor="middle" textLength="29.83" lengthAdjust="spacingAndGlyphs" >2027</text>
<text x="1609.33" y="1012.40" font-size="12.3" font-weight="bold" fill="#1c2130" text-anchor="middle" textLength="29.83" lengthAdjust="spacingAndGlyphs" >2028</text>
<text x="1659.11" y="1012.40" font-size="12.3" font-weight="bold" fill="#1c2130" text-anchor="middle" textLength="29.83" lengthAdjust="spacingAndGlyphs" >2029</text>
<text x="1708.89" y="1012.40" font-size="12.3" font-weight="bold" fill="#1c2130" text-anchor="middle" textLength="29.83" lengthAdjust="spacingAndGlyphs" >2030</text>
<text x="1758.67" y="1012.40" font-size="12.3" font-weight="bold" fill="#1c2130" text-anchor="middle" textLength="29.83" lengthAdjust="spacingAndGlyphs" >2031</text>
<text x="1808.44" y="1012.40" font-size="12.3" font-weight="bold" fill="#1c2130" text-anchor="middle" textLength="29.83" lengthAdjust="spacingAndGlyphs" >2032</text>
<text x="1858.22" y="1012.40" font-size="12.3" font-weight="bold" fill="#1c2130" text-anchor="middle" textLength="29.83" lengthAdjust="spacingAndGlyphs" >2033</text>
<text x="1908.00" y="1012.40" font-size="12.3" font-weight="bold" fill="#1c2130" text-anchor="middle" textLength="29.83" lengthAdjust="spacingAndGlyphs" >2034</text>
<rect x="1499.50" y="701.00" width="32.80" height="8.00" fill="#1e293b" />
<text x="1536.70" y="709.80" font-size="11.9" font-weight="normal" fill="#595959" text-anchor="start" textLength="91.10" lengthAdjust="spacingAndGlyphs" >Current Assets</text>
<rect x="1635.30" y="701.00" width="33.10" height="8.00" fill="#808080" />
<text x="1673.00" y="709.80" font-size="11.9" font-weight="normal" fill="#595959" text-anchor="start" textLength="109.20" lengthAdjust="spacingAndGlyphs" >Current Liabilities</text>
<polyline points="1791.50,705.00 1823.50,705.00" fill="none" stroke="#b09340" stroke-width="3.4" stroke-linejoin="round" stroke-linecap="round" />
<text x="1828.00" y="709.80" font-size="11.9" font-weight="normal" fill="#595959" text-anchor="start" textLength="21.80" lengthAdjust="spacingAndGlyphs" >WC</text>
<text x="75.80" y="1167.60" font-size="12.3" font-weight="bold" fill="#1c2130" text-anchor="end" textLength="34.17" lengthAdjust="spacingAndGlyphs" >4.500</text>
<text x="75.80" y="1196.36" font-size="12.3" font-weight="bold" fill="#1c2130" text-anchor="end" textLength="34.17" lengthAdjust="spacingAndGlyphs" >4.000</text>
<text x="75.80" y="1225.11" font-size="12.3" font-weight="bold" fill="#1c2130" text-anchor="end" textLength="34.17" lengthAdjust="spacingAndGlyphs" >3.500</text>
<text x="75.80" y="1253.87" font-size="12.3" font-weight="bold" fill="#1c2130" text-anchor="end" textLength="34.17" lengthAdjust="spacingAndGlyphs" >3.000</text>
<text x="75.80" y="1282.63" font-size="12.3" font-weight="bold" fill="#1c2130" text-anchor="end" textLength="34.17" lengthAdjust="spacingAndGlyphs" >2.500</text>
<text x="75.80" y="1311.38" font-size="12.3" font-weight="bold" fill="#1c2130" text-anchor="end" textLength="34.17" lengthAdjust="spacingAndGlyphs" >2.000</text>
<text x="75.80" y="1340.14" font-size="12.3" font-weight="bold" fill="#1c2130" text-anchor="end" textLength="34.17" lengthAdjust="spacingAndGlyphs" >1.500</text>
<text x="75.80" y="1368.89" font-size="12.3" font-weight="bold" fill="#1c2130" text-anchor="end" textLength="34.17" lengthAdjust="spacingAndGlyphs" >1.000</text>
<text x="75.80" y="1397.65" font-size="12.3" font-weight="bold" fill="#1c2130" text-anchor="end" textLength="22.78" lengthAdjust="spacingAndGlyphs" >500</text>
<text x="75.80" y="1426.40" font-size="12.3" font-weight="bold" fill="#1c2130" text-anchor="end" >-</text>
<rect x="93.40" y="1421.40" width="513.60" height="1.20" fill="#d9d9d9" />
<path d="M119.60,1422 L119.60,1324.70 L170.87,1315.50 L222.13,1311.90 L273.40,1302.20 L324.67,1299.70 L375.93,1287.80 L427.20,1278.20 L478.47,1252.50 L529.73,1257.30 L581.00,1244.50 L581.00,1422 Z" fill="#808080" />
<rect x="109.50" y="1297.40" width="20.20" height="124.60" fill="#b09340" />
<rect x="160.77" y="1260.80" width="20.20" height="161.20" fill="#b09340" />
<rect x="212.03" y="1256.70" width="20.20" height="165.30" fill="#b09340" />
<rect x="263.30" y="1246.70" width="20.20" height="175.30" fill="#b09340" />
<rect x="314.57" y="1242.50" width="20.20" height="179.50" fill="#b09340" />
<rect x="365.83" y="1232.60" width="20.20" height="189.40" fill="#b09340" />
<rect x="417.10" y="1223.60" width="20.20" height="198.40" fill="#b09340" />
<rect x="468.37" y="1212.40" width="20.20" height="209.60" fill="#b09340" />
<rect x="519.63" y="1214.60" width="20.20" height="207.40" fill="#b09340" />
<rect x="570.90" y="1200.50" width="20.20" height="221.50" fill="#b09340" />
<text x="119.60" y="1446.90" font-size="12.3" font-weight="bold" fill="#1c2130" text-anchor="middle" textLength="29.83" lengthAdjust="spacingAndGlyphs" >2025</text>
<text x="170.87" y="1446.90" font-size="12.3" font-weight="bold" fill="#1c2130" text-anchor="middle" textLength="29.83" lengthAdjust="spacingAndGlyphs" >2026</text>
<text x="222.13" y="1446.90" font-size="12.3" font-weight="bold" fill="#1c2130" text-anchor="middle" textLength="29.83" lengthAdjust="spacingAndGlyphs" >2027</text>
<text x="273.40" y="1446.90" font-size="12.3" font-weight="bold" fill="#1c2130" text-anchor="middle" textLength="29.83" lengthAdjust="spacingAndGlyphs" >2028</text>
<text x="324.67" y="1446.90" font-size="12.3" font-weight="bold" fill="#1c2130" text-anchor="middle" textLength="29.83" lengthAdjust="spacingAndGlyphs" >2029</text>
<text x="375.93" y="1446.90" font-size="12.3" font-weight="bold" fill="#1c2130" text-anchor="middle" textLength="29.83" lengthAdjust="spacingAndGlyphs" >2030</text>
<text x="427.20" y="1446.90" font-size="12.3" font-weight="bold" fill="#1c2130" text-anchor="middle" textLength="29.83" lengthAdjust="spacingAndGlyphs" >2031</text>
<text x="478.47" y="1446.90" font-size="12.3" font-weight="bold" fill="#1c2130" text-anchor="middle" textLength="29.83" lengthAdjust="spacingAndGlyphs" >2032</text>
<text x="529.73" y="1446.90" font-size="12.3" font-weight="bold" fill="#1c2130" text-anchor="middle" textLength="29.83" lengthAdjust="spacingAndGlyphs" >2033</text>
<text x="581.00" y="1446.90" font-size="12.3" font-weight="bold" fill="#1c2130" text-anchor="middle" textLength="29.83" lengthAdjust="spacingAndGlyphs" >2034</text>
<rect x="230.80" y="1127.30" width="8.70" height="8.00" fill="#808080" />
<text x="243.70" y="1136.00" font-size="11.9" font-weight="normal" fill="#595959" text-anchor="start" textLength="71.90" lengthAdjust="spacingAndGlyphs" >Net Income</text>
<rect x="334.20" y="1127.30" width="8.00" height="8.00" fill="#b09340" />
<text x="346.00" y="1136.00" font-size="11.9" font-weight="normal" fill="#595959" text-anchor="start" textLength="81.30" lengthAdjust="spacingAndGlyphs" >Operating CF</text>
<text x="795.40" y="1163.00" font-size="12.3" font-weight="bold" fill="#595959" text-anchor="end" textLength="68.33" lengthAdjust="spacingAndGlyphs" >12.000.000</text>
<text x="795.40" y="1207.80" font-size="12.3" font-weight="bold" fill="#595959" text-anchor="end" textLength="68.33" lengthAdjust="spacingAndGlyphs" >10.000.000</text>
<text x="795.40" y="1252.60" font-size="12.3" font-weight="bold" fill="#595959" text-anchor="end" textLength="60.74" lengthAdjust="spacingAndGlyphs" >8.000.000</text>
<text x="795.40" y="1297.40" font-size="12.3" font-weight="bold" fill="#595959" text-anchor="end" textLength="60.74" lengthAdjust="spacingAndGlyphs" >6.000.000</text>
<text x="795.40" y="1342.20" font-size="12.3" font-weight="bold" fill="#595959" text-anchor="end" textLength="60.74" lengthAdjust="spacingAndGlyphs" >4.000.000</text>
<text x="795.40" y="1387.00" font-size="12.3" font-weight="bold" fill="#595959" text-anchor="end" textLength="60.74" lengthAdjust="spacingAndGlyphs" >2.000.000</text>
<text x="795.40" y="1431.80" font-size="12.3" font-weight="bold" fill="#595959" text-anchor="end" >-</text>
<rect x="812.60" y="1426.80" width="485.80" height="1.20" fill="#d9d9d9" />
<rect x="827.90" y="1175.20" width="18.80" height="252.20" fill="#1e293b" />
<rect x="876.47" y="1196.30" width="18.80" height="231.10" fill="#1e293b" />
<rect x="925.03" y="1218.00" width="18.80" height="209.40" fill="#1e293b" />
<rect x="973.60" y="1234.40" width="18.80" height="193.00" fill="#1e293b" />
<rect x="1022.17" y="1255.20" width="18.80" height="172.20" fill="#1e293b" />
<rect x="1070.73" y="1275.70" width="18.80" height="151.70" fill="#1e293b" />
<rect x="1119.30" y="1297.40" width="18.80" height="130.00" fill="#1e293b" />
<rect x="1167.87" y="1311.20" width="18.80" height="116.20" fill="#1e293b" />
<rect x="1216.43" y="1321.10" width="18.80" height="106.30" fill="#1e293b" />
<rect x="1265.00" y="1336.20" width="18.80" height="91.20" fill="#1e293b" />
<polyline points="837.30,1406.60 885.87,1406.60 934.43,1406.60 983.00,1405.80 1031.57,1405.60 1080.13,1405.60 1128.70,1405.60 1177.27,1411.00 1225.83,1410.40 1274.40,1410.40" fill="none" stroke="#b09340" stroke-width="3.4" stroke-linejoin="round" stroke-linecap="round" />
<text x="837.30" y="1451.60" font-size="12.3" font-weight="bold" fill="#595959" text-anchor="middle" textLength="29.83" lengthAdjust="spacingAndGlyphs" >2025</text>
<text x="885.87" y="1451.60" font-size="12.3" font-weight="bold" fill="#595959" text-anchor="middle" textLength="29.83" lengthAdjust="spacingAndGlyphs" >2026</text>
<text x="934.43" y="1451.60" font-size="12.3" font-weight="bold" fill="#595959" text-anchor="middle" textLength="29.83" lengthAdjust="spacingAndGlyphs" >2027</text>
<text x="983.00" y="1451.60" font-size="12.3" font-weight="bold" fill="#595959" text-anchor="middle" textLength="29.83" lengthAdjust="spacingAndGlyphs" >2028</text>
<text x="1031.57" y="1451.60" font-size="12.3" font-weight="bold" fill="#595959" text-anchor="middle" textLength="29.83" lengthAdjust="spacingAndGlyphs" >2029</text>
<text x="1080.13" y="1451.60" font-size="12.3" font-weight="bold" fill="#595959" text-anchor="middle" textLength="29.83" lengthAdjust="spacingAndGlyphs" >2030</text>
<text x="1128.70" y="1451.60" font-size="12.3" font-weight="bold" fill="#595959" text-anchor="middle" textLength="29.83" lengthAdjust="spacingAndGlyphs" >2031</text>
<text x="1177.27" y="1451.60" font-size="12.3" font-weight="bold" fill="#595959" text-anchor="middle" textLength="29.83" lengthAdjust="spacingAndGlyphs" >2032</text>
<text x="1225.83" y="1451.60" font-size="12.3" font-weight="bold" fill="#595959" text-anchor="middle" textLength="29.83" lengthAdjust="spacingAndGlyphs" >2033</text>
<text x="1274.40" y="1451.60" font-size="12.3" font-weight="bold" fill="#595959" text-anchor="middle" textLength="29.83" lengthAdjust="spacingAndGlyphs" >2034</text>
<rect x="888.80" y="1122.40" width="32.00" height="8.00" fill="#1e293b" />
<text x="925.00" y="1131.00" font-size="11.9" font-weight="normal" fill="#595959" text-anchor="start" textLength="82.20" lengthAdjust="spacingAndGlyphs" >PP&amp;E Closing</text>
<polyline points="1028.00,1126.40 1060.00,1126.40" fill="none" stroke="#b09340" stroke-width="3.4" stroke-linejoin="round" stroke-linecap="round" />
<text x="1064.80" y="1131.00" font-size="11.9" font-weight="normal" fill="#595959" text-anchor="start" textLength="80.00" lengthAdjust="spacingAndGlyphs" >Depreciation</text>
<text x="1451.80" y="1167.00" font-size="12.3" font-weight="bold" fill="#595959" text-anchor="end" textLength="60.74" lengthAdjust="spacingAndGlyphs" >8.000.000</text>
<text x="1451.80" y="1200.72" font-size="12.3" font-weight="bold" fill="#595959" text-anchor="end" textLength="60.74" lengthAdjust="spacingAndGlyphs" >7.000.000</text>
<text x="1451.80" y="1234.43" font-size="12.3" font-weight="bold" fill="#595959" text-anchor="end" textLength="60.74" lengthAdjust="spacingAndGlyphs" >6.000.000</text>
<text x="1451.80" y="1268.14" font-size="12.3" font-weight="bold" fill="#595959" text-anchor="end" textLength="60.74" lengthAdjust="spacingAndGlyphs" >5.000.000</text>
<text x="1451.80" y="1301.85" font-size="12.3" font-weight="bold" fill="#595959" text-anchor="end" textLength="60.74" lengthAdjust="spacingAndGlyphs" >4.000.000</text>
<text x="1451.80" y="1335.57" font-size="12.3" font-weight="bold" fill="#595959" text-anchor="end" textLength="60.74" lengthAdjust="spacingAndGlyphs" >3.000.000</text>
<text x="1451.80" y="1369.28" font-size="12.3" font-weight="bold" fill="#595959" text-anchor="end" textLength="60.74" lengthAdjust="spacingAndGlyphs" >2.000.000</text>
<text x="1451.80" y="1402.99" font-size="12.3" font-weight="bold" fill="#595959" text-anchor="end" textLength="60.74" lengthAdjust="spacingAndGlyphs" >1.000.000</text>
<text x="1451.80" y="1436.70" font-size="12.3" font-weight="bold" fill="#595959" text-anchor="end" >-</text>
<rect x="1469.00" y="1431.70" width="484.60" height="1.20" fill="#d9d9d9" />
<rect x="1479.10" y="1205.40" width="14.20" height="226.90" fill="#b09340" />
<rect x="1493.30" y="1219.30" width="14.20" height="213.00" fill="#808080" />
<rect x="1527.49" y="1226.20" width="14.20" height="206.10" fill="#b09340" />
<rect x="1541.69" y="1219.30" width="14.20" height="213.00" fill="#808080" />
<rect x="1575.88" y="1247.60" width="14.20" height="184.70" fill="#b09340" />
<rect x="1590.08" y="1219.30" width="14.20" height="213.00" fill="#808080" />
<rect x="1624.27" y="1269.90" width="14.20" height="162.40" fill="#b09340" />
<rect x="1638.47" y="1219.30" width="14.20" height="213.00" fill="#808080" />
<rect x="1672.66" y="1293.70" width="14.20" height="138.60" fill="#b09340" />
<rect x="1686.86" y="1219.30" width="14.20" height="213.00" fill="#808080" />
<rect x="1721.04" y="1319.50" width="14.20" height="112.80" fill="#b09340" />
<rect x="1735.24" y="1219.30" width="14.20" height="213.00" fill="#808080" />
<rect x="1769.43" y="1345.80" width="14.20" height="86.50" fill="#b09340" />
<rect x="1783.63" y="1219.30" width="14.20" height="213.00" fill="#808080" />
<rect x="1817.82" y="1372.80" width="14.20" height="59.50" fill="#b09340" />
<rect x="1832.02" y="1219.30" width="14.20" height="213.00" fill="#808080" />
<rect x="1866.21" y="1401.60" width="14.20" height="30.70" fill="#b09340" />
<rect x="1880.41" y="1219.30" width="14.20" height="213.00" fill="#808080" />
<rect x="1928.80" y="1219.30" width="14.20" height="213.00" fill="#808080" />
<clipPath id="csclip"><rect x="1460" y="1150" width="520" height="282.3"/></clipPath>
<polyline points="1494.00,1317.60 1542.00,1329.60 1591.20,1341.10 1639.20,1351.90 1687.20,1363.20 1736.00,1375.20 1784.00,1388.40 1833.00,1401.60 1880.90,1416.00 1928.90,1431.60 1936.00,1434.20" fill="none" stroke="#1e293b" stroke-width="4.2" stroke-linejoin="round" stroke-linecap="round" clip-path="url(#csclip)"/>
<text x="1493.30" y="1456.90" font-size="12.3" font-weight="bold" fill="#595959" text-anchor="middle" textLength="29.83" lengthAdjust="spacingAndGlyphs" >2025</text>
<text x="1541.69" y="1456.90" font-size="12.3" font-weight="bold" fill="#595959" text-anchor="middle" textLength="29.83" lengthAdjust="spacingAndGlyphs" >2026</text>
<text x="1590.08" y="1456.90" font-size="12.3" font-weight="bold" fill="#595959" text-anchor="middle" textLength="29.83" lengthAdjust="spacingAndGlyphs" >2027</text>
<text x="1638.47" y="1456.90" font-size="12.3" font-weight="bold" fill="#595959" text-anchor="middle" textLength="29.83" lengthAdjust="spacingAndGlyphs" >2028</text>
<text x="1686.86" y="1456.90" font-size="12.3" font-weight="bold" fill="#595959" text-anchor="middle" textLength="29.83" lengthAdjust="spacingAndGlyphs" >2029</text>
<rect x="1535.10" y="1119.20" width="33.20" height="7.80" fill="#b09340" />
<text x="1573.00" y="1127.90" font-size="11.9" font-weight="normal" fill="#595959" text-anchor="start" textLength="28.80" lengthAdjust="spacingAndGlyphs" >Debt</text>
<rect x="1635.00" y="1119.20" width="32.80" height="7.80" fill="#808080" />
<text x="1672.20" y="1127.90" font-size="11.9" font-weight="normal" fill="#595959" text-anchor="start" textLength="39.00" lengthAdjust="spacingAndGlyphs" >Equity</text>
<polyline points="1744.00,1123.10 1775.00,1123.10" fill="none" stroke="#1e293b" stroke-width="3.8" stroke-linejoin="round" stroke-linecap="round" />
<text x="1780.00" y="1127.90" font-size="11.9" font-weight="normal" fill="#595959" text-anchor="start" textLength="92.10" lengthAdjust="spacingAndGlyphs" >Debt-to-Equity</text></svg></body></html>
